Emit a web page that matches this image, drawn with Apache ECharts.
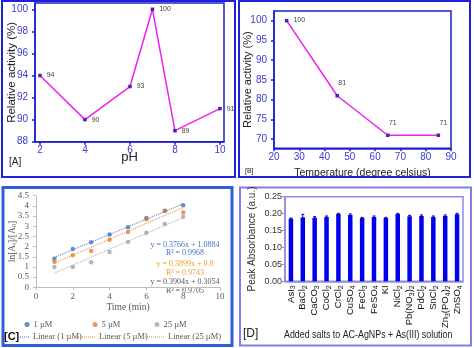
<!DOCTYPE html>
<html><head><meta charset="utf-8">
<script src="https://cdn.jsdelivr.net/npm/echarts@6/dist/echarts.min.js"></script>
<style>html,body{margin:0;padding:0;background:#fff}#c{width:474px;height:348px}</style>
</head><body><div id="c"></div>
<script>
// ---- Panel A: pH ----
const phValues = [2, 4, 6, 7, 8, 10];
const phActivity = [94, 90, 93, 100, 89, 91];
const phTicks = [2, 4, 6, 8, 10];
const phActTicks = [88, 90, 92, 94, 96, 98, 100];
// ---- Panel B: temperature ----
const tempValues = [25, 45, 65, 85];
const tempActivity = [100, 81, 71, 71];
const tempActTicks = [70, 75, 80, 85, 90, 95, 100];
// ---- Panel C: kinetics ----
const timeMin = [1, 2, 3, 4, 5, 6, 7, 8];
const ln1uM = [1.40, 1.88, 2.21, 2.60, 2.95, 3.40, 3.76, 4.03];
const ln5uM = [1.26, 1.57, 1.78, 2.34, 2.72, 3.34, 3.75, 3.68];
const ln25uM = [1.00, 1.00, 1.23, 1.73, 2.23, 2.68, 3.11, 3.47];
const trendX = [1, 8];
const trend1uM = [1.47, 4.10];
const trend5uM = [1.19, 3.92];
const trend25uM = [0.70, 3.43];
const seriesNamesC = ['1 µM', '5 µM', '25 µM'];
const trendNamesC = ['Linear (1 µM)', 'Linear (5 µM)', 'Linear (25 µM)'];
const eqLines = ['y = 0.3766x + 1.0884', 'R² = 0.9968', 'y = 0.3899x + 0.8', 'R² = 0.9743', 'y = 0.3904x + 0.3054', 'R² = 0.9705'];
// ---- Panel D: interference ----
const salts = ['AsI3', 'BaCl2', 'CaCO3', 'CoCl2', 'CrCl2', 'CuSO4', 'FeCl3', 'FeSO4', 'KI', 'NiCl2', 'Pb(NO3)2', 'PdCl2', 'SnCl2', 'Zn3(PO4)2', 'ZnSO4'];
const absorbance = [0.185, 0.189, 0.188, 0.190, 0.199, 0.196, 0.187, 0.190, 0.187, 0.199, 0.192, 0.193, 0.190, 0.193, 0.198];
const absErr = [0.002, 0.009, 0.003, 0.003, 0.002, 0.003, 0.002, 0.003, 0.002, 0.002, 0.003, 0.003, 0.003, 0.003, 0.003];

const chart = echarts.init(document.getElementById('c'), null, {renderer: 'canvas'});
const BLUE = '#1f1fd0', LBL = '#3b3bcc';
const SANS = 'Liberation Sans, Arial, sans-serif';
const SERIF = 'Liberation Serif, Times New Roman, serif';
const cC = ['#4472C4', '#ED7D31', '#A5A5A5'];

function dottedIcon(n) {
  let s = 'path://';
  for (let i = 0; i < n; i += 2) s += 'M' + i + ',0h1v1h-1z';
  return s;
}

function originAxis(extra) {
  return Object.assign({
    type: 'value', splitLine: {show: false},
    axisLine: {show: true, lineStyle: {color: BLUE, width: 1.5}},
    nameLocation: 'middle', nameMoveOverlap: false
  }, extra);
}

const option = {
  backgroundColor: '#fff',
  animation: false,
  grid: [
    {left: 35, top: 3, width: 189, height: 138.7, show: true, borderColor: BLUE, borderWidth: 1.5},
    {left: 274, top: 11, width: 177, height: 137.3, show: true, borderColor: BLUE, borderWidth: 1.5},
    {left: 36, top: 195.7, width: 184, height: 91.6},
    {left: 285, top: 196.7, width: 178, height: 84.6, show: true, borderColor: '#8c8ce6', borderWidth: 1.5}
  ],
  xAxis: [
    originAxis({gridIndex: 0, min: 1.78, max: 10.18,
      axisTick: {show: true, length: 3, customValues: phTicks, lineStyle: {color: BLUE, width: 1.5}},
      axisLabel: {customValues: phTicks, color: LBL, fontSize: 10, margin: 4, fontFamily: SANS},
      name: 'pH', nameGap: 9, nameTextStyle: {fontSize: 13, color: '#222', fontFamily: SANS}}),
    originAxis({gridIndex: 1, min: 20, max: 90, interval: 10,
      axisTick: {show: true, length: 3, lineStyle: {color: BLUE, width: 1.5}},
      axisLabel: {color: LBL, fontSize: 10, margin: 4, fontFamily: SANS},
      name: 'Temperature (degree celsius)', nameGap: 19, nameTextStyle: {fontSize: 10.5, color: '#222', fontFamily: SANS}}),
    {type: 'value', gridIndex: 2, min: 0, max: 10, interval: 2, splitLine: {show: false},
      axisLine: {show: true, lineStyle: {color: '#bfbfbf'}},
      axisTick: {show: true, length: 3, lineStyle: {color: '#bfbfbf'}},
      axisLabel: {color: '#595959', fontSize: 9, fontFamily: SERIF, margin: 5},
      name: 'Time (min)', nameLocation: 'middle', nameGap: 15, nameMoveOverlap: false,
      nameTextStyle: {fontSize: 9.5, color: '#595959', fontFamily: SERIF}},
    {type: 'category', gridIndex: 3, data: salts,
      axisLine: {show: true, lineStyle: {color: '#8c8ce6', width: 1.5}},
      axisTick: {show: false},
      axisLabel: {interval: 0, rotate: 90, fontSize: 9.5, color: '#111', fontFamily: SANS, margin: 4, lineHeight: 12,
        formatter: v => v.replace(/(\d+)/g, '{s|$1}'),
        rich: {s: {fontSize: 7, lineHeight: 8, verticalAlign: 'bottom', fontFamily: SANS, color: '#111'}}}}
  ],
  yAxis: [
    originAxis({gridIndex: 0, min: 88, max: 100.57,
      axisTick: {show: true, length: 3, customValues: phActTicks, lineStyle: {color: BLUE, width: 1.5}},
      axisLabel: {customValues: phActTicks, color: LBL, fontSize: 10, margin: 7, fontFamily: SANS},
      name: 'Relative activity (%)', nameGap: 17, nameTextStyle: {fontSize: 11.5, color: '#222', fontFamily: SANS}}),
    originAxis({gridIndex: 1, min: 67.7, max: 102.45,
      axisTick: {show: true, length: 3, customValues: tempActTicks, lineStyle: {color: BLUE, width: 1.5}},
      axisLabel: {customValues: tempActTicks, color: LBL, fontSize: 10, margin: 7, fontFamily: SANS},
      name: 'Relative activity (%)', nameGap: 21, nameTextStyle: {fontSize: 11, color: '#222', fontFamily: SANS}}),
    {type: 'value', gridIndex: 2, min: 0, max: 4.5, interval: 0.5, splitLine: {show: false},
      axisLine: {show: true, lineStyle: {color: '#bfbfbf'}},
      axisTick: {show: true, length: 3, lineStyle: {color: '#bfbfbf'}},
      axisLabel: {color: '#595959', fontSize: 9, fontFamily: SERIF, margin: 7},
      name: 'ln[A{s|t}]/[A{s|0}]', nameLocation: 'middle', nameGap: 18.5, nameMoveOverlap: false,
      nameTextStyle: {fontSize: 9.5, color: '#595959', fontFamily: SERIF,
        rich: {s: {fontSize: 6.5, lineHeight: 7, verticalAlign: 'bottom', fontFamily: SERIF, color: '#595959'}}}},
    {type: 'value', gridIndex: 3, min: 0, max: 0.25, interval: 0.05, splitLine: {show: false},
      axisLine: {show: true, lineStyle: {color: '#8c8ce6', width: 1.5}},
      axisTick: {show: true, length: 3, lineStyle: {color: '#8c8ce6'}},
      axisLabel: {color: '#333', fontSize: 9, fontFamily: SANS, margin: 3, formatter: v => v.toFixed(2)},
      name: 'Peak Absorbance (a.u.)', nameLocation: 'middle', nameGap: 28, nameMoveOverlap: false,
      nameTextStyle: {fontSize: 10, color: '#333', fontFamily: SANS}}
  ],
  legend: [
    {data: [seriesNamesC[0]], left: 24.5, top: 320, icon: 'circle'},
    {data: [seriesNamesC[1]], left: 92.5, top: 320, icon: 'circle'},
    {data: [seriesNamesC[2]], left: 154.5, top: 320, icon: 'circle'},
    {data: [trendNamesC[0]], left: 18, top: 332.5, itemWidth: 11, itemHeight: 1, icon: dottedIcon(11)},
    {data: [trendNamesC[1]], left: 72, top: 332.5, itemWidth: 23, itemHeight: 1, icon: dottedIcon(23)},
    {data: [trendNamesC[2]], left: 143, top: 332.5, itemWidth: 21, itemHeight: 1, icon: dottedIcon(21)}
  ].map(l => Object.assign({padding: 0, itemGap: 0, itemWidth: 5, itemHeight: 5,
      textStyle: {fontSize: 8.5, color: '#595959', fontFamily: SERIF, padding: [0, 0, 0, -1]}}, l)),
  graphic: [
    {type: 'rect', shape: {x: 2, y: 1, width: 233, height: 176}, style: {fill: 'none', stroke: '#2020d8', lineWidth: 2}, silent: true},
    {type: 'rect', shape: {x: 239, y: 1, width: 231, height: 176}, style: {fill: 'none', stroke: '#2020d8', lineWidth: 2}, silent: true},
    {type: 'rect', shape: {x: 3, y: 187.5, width: 229, height: 158}, style: {fill: 'none', stroke: '#2f5fd8', lineWidth: 3}, silent: true},
    {type: 'rect', shape: {x: 240, y: 187.5, width: 231, height: 158}, style: {fill: 'none', stroke: '#8080e0', lineWidth: 2}, silent: true},
    {type: 'text', left: 9, top: 157, style: {text: '[A]', font: '10px ' + SANS, fill: '#222'}},
    {type: 'text', left: 245, top: 168, style: {text: '[B]', font: '7px ' + SANS, fill: '#222'}},
    {type: 'text', left: 4, top: 331, style: {text: '[C]', font: 'bold 11px ' + SANS, fill: '#111'}},
    {type: 'text', left: 243, top: 328, style: {text: '[D]', font: '12px ' + SANS, fill: '#222'}},
    {type: 'text', x: 284, y: 335, scaleX: 0.845, style: {text: 'Added salts to AC-AgNPs + As(III) solution', x: 0, y: 0,
      font: '10.5px ' + SANS, fill: '#222', verticalAlign: 'middle'}},
    ...eqLines.map((t, i) => ({type: 'text', x: 185, y: [244.7, 253, 264, 272.5, 282, 290.5][i],
      style: {text: t, font: '8px ' + SERIF, fill: [cC[0], cC[0], '#f0a030', '#f0a030', '#595959', '#595959'][i], align: 'center', verticalAlign: 'middle'}}))
  ],
  series: [
    {type: 'line', xAxisIndex: 0, yAxisIndex: 0, data: phValues.map((x, i) => [x, phActivity[i]]),
      lineStyle: {color: '#ee22ee', width: 1.5}, itemStyle: {color: '#4a22b0'}, symbol: 'rect', symbolSize: 3.5,
      label: {show: true, position: 'right', distance: 5, fontSize: 7, color: '#444', fontFamily: SANS}},
    {type: 'line', xAxisIndex: 1, yAxisIndex: 1, data: tempValues.map((x, i) => ({value: [x, tempActivity[i]],
        label: i === 0 ? {position: 'right', offset: [0, -1]} : {position: 'top', offset: [5, -2]}})),
      lineStyle: {color: '#ee22ee', width: 1.5}, itemStyle: {color: '#4a22b0'}, symbol: 'rect', symbolSize: 3.5,
      label: {show: true, fontSize: 7, color: '#444', fontFamily: SANS, distance: 5}},
    ...[ln1uM, ln5uM, ln25uM].map((arr, k) => ({type: 'scatter', name: seriesNamesC[k], xAxisIndex: 2, yAxisIndex: 2,
      data: timeMin.map((x, i) => [x, arr[i]]), symbolSize: 4.5, itemStyle: {color: cC[k]}})),
    ...[trend1uM, trend5uM, trend25uM].map((arr, k) => ({type: 'line', name: trendNamesC[k], xAxisIndex: 2, yAxisIndex: 2,
      data: trendX.map((x, i) => [x, arr[i]]), symbol: 'none', showSymbol: false,
      lineStyle: {color: cC[k], width: 1, type: 'dotted'}, itemStyle: {color: cC[k]}})),
    {type: 'bar', xAxisIndex: 3, yAxisIndex: 3, data: absorbance, barWidth: 4.5, itemStyle: {color: '#0000ee'}},
    {type: 'custom', xAxisIndex: 3, yAxisIndex: 3,
      data: absorbance.map((v, i) => [i, v + absErr[i], v - absErr[i]]),
      renderItem: (params, api) => {
        const top = api.coord([api.value(0), api.value(1)]);
        const bot = api.coord([api.value(0), api.value(2)]);
        const st = {stroke: '#00008a', lineWidth: 1};
        return {type: 'group', children: [
          {type: 'line', shape: {x1: top[0], y1: top[1], x2: bot[0], y2: bot[1]}, style: st},
          {type: 'line', shape: {x1: top[0] - 1.5, y1: top[1], x2: top[0] + 1.5, y2: top[1]}, style: st}
        ]};
      }, z: 3}
  ]
};
chart.setOption(option);
</script></body></html>
